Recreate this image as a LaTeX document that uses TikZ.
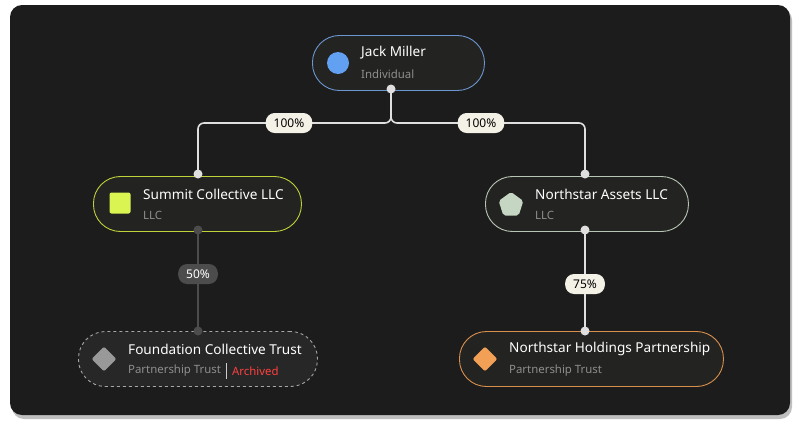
\documentclass[tikz,border=0pt]{standalone}
\usepackage{fontspec}
\setmainfont{Noto Sans}
\usetikzlibrary{shapes.geometric}
\definecolor{bgpanel}{HTML}{1C1C1C}
\definecolor{cardfill}{HTML}{232321}
\definecolor{pill}{HTML}{F4F1E6}
\definecolor{subgray}{HTML}{8E8E8E}
\definecolor{jackblue}{HTML}{62A0F2}
\definecolor{limeic}{HTML}{DAF552}
\definecolor{sageic}{HTML}{C5D6C2}
\definecolor{orangeic}{HTML}{F2A055}
\tikzset{
  card/.style={draw, rounded corners=27pt, fill=cardfill, line width=0.9pt, minimum height=55pt, anchor=west},
  title/.style={anchor=west, inner sep=0pt, text=white, font=\fontsize{13.6}{15}\selectfont},
  sub/.style={anchor=west, inner sep=0pt, text=subgray, font=\fontsize{11.4}{13}\selectfont},
  pct/.style={rounded corners=9pt, fill=pill, text=black, inner xsep=8pt, minimum height=20pt, font=\fontsize{12}{13}\selectfont},
  port/.style={circle, fill=#1, inner sep=0pt, minimum size=9pt},
  link/.style={line width=1.6pt, rounded corners=6pt}
}
\begin{document}
\begin{tikzpicture}[x=1pt,y=1pt,yscale=-1]
\useasboundingbox (0,0) rectangle (800,434);
\fill[white] (0,0) rectangle (800,434);
\fill[black!25, rounded corners=12pt] (12,8) rectangle (792,419);
\fill[bgpanel, rounded corners=12pt] (10,5) rectangle (790,415);
% cards
\node[card, draw=jackblue!70!gray, minimum width=172pt] (jack) at (312,63) {};
\node[card, draw=limeic!70!olive, minimum width=208pt] (summit) at (93,204) {};
\node[card, draw=sageic!80!gray, minimum width=203pt] (nassets) at (485,204) {};
\node[card, draw=gray!70, dashed, fill=bgpanel!95!white, minimum width=239pt] (found) at (78,359) {};
\node[card, draw=orangeic!90!black, minimum width=264pt] (nhold) at (459,359) {};
% icons
\node[circle, fill=jackblue, minimum size=22pt, inner sep=0pt] (jackic) at (338,63) {};
\node[rounded corners=2pt, fill=limeic, minimum size=21pt, inner sep=0pt] (summitic) at (120,203) {};
\node[regular polygon, regular polygon sides=5, rounded corners=2pt, fill=sageic, minimum size=26pt, inner sep=0pt] (nassetsic) at (511,205) {};
\node[diamond, rounded corners=2pt, fill=gray!80, minimum size=25pt, inner sep=0pt] (foundic) at (104,359) {};
\node[diamond, rounded corners=2pt, fill=orangeic, minimum size=25pt, inner sep=0pt] (nholdic) at (485,359) {};
% texts
\node[title] (jackt) at (361,53) {Jack Miller};
\node[sub] (jacks) at (361,74) {Individual};
\node[title] (summitt) at (143,194) {Summit Collective LLC};
\node[sub] (summits) at (143,215) {LLC};
\node[title] (nassetst) at (535,194) {Northstar Assets LLC};
\node[sub] (nassetss) at (535,215) {LLC};
\node[title] (foundt) at (128,349) {Foundation Collective Trust};
\node[sub] (founds) at (128,371) {Partnership Trust};
\node[sub, text=red!75!white] (foundx) at (232,371) {Archived};
\draw[gray!40, line width=0.5pt] (226,363) -- (226,379);
\node[title] (nholdt) at (509,349) {Northstar Holdings Partnership};
\node[sub] (nholds) at (509,371) {Partnership Trust};
% ports
\node[port=gray!25] (p0) at (391,89) {};
\node[port=gray!25] (p1) at (198,174) {};
\node[port=gray!25] (p2) at (585,174) {};
\node[port=gray!60!black] (p3) at (198,230) {};
\node[port=gray!60!black] (p4) at (198,331) {};
\node[port=gray!25] (p5) at (585,230) {};
\node[port=gray!25] (p6) at (585,331) {};
% links
\draw[link, gray!25] (p0.center) -- (391,123) -- (p1.center |- 0,123) -- (p1.center);
\draw[link, gray!25] (p0.center) -- (391,123) -- (p2.center |- 0,123) -- (p2.center);
\draw[link, gray!60!black] (p3.center) -- (p4.center);
\draw[link, gray!25] (p5.center) -- (p6.center);
\node[pct] (l1) at (289,123) {100\%};
\node[pct] (l2) at (481,123) {100\%};
\node[pct, fill=gray!60!black, text=white] (l3) at (198,274) {50\%};
\node[pct] (l4) at (585,284) {75\%};
\end{tikzpicture}
\end{document}
